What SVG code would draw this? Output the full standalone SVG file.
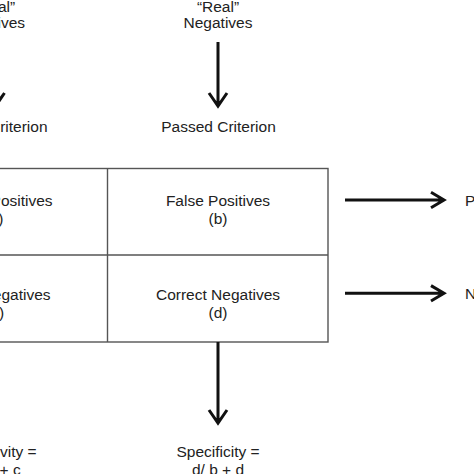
<svg xmlns="http://www.w3.org/2000/svg" width="474" height="474" viewBox="0 0 474 474">
<style>
text{font-family:"Liberation Sans",Arial,sans-serif;font-size:15.5px;fill:#222;text-anchor:middle}
.grid{fill:none;stroke:#555;stroke-width:1.4}
.arr{fill:none;stroke:#111;stroke-width:3;stroke-linecap:butt;stroke-linejoin:miter}
</style>
<rect width="474" height="474" fill="#fff"/>
<g id="table">
<rect class="grid" x="-113" y="168.5" width="441" height="173.5"/>
<line class="grid" x1="107.5" y1="168.5" x2="107.5" y2="342"/>
<line class="grid" x1="-113" y1="255" x2="328" y2="255"/>
</g>
<g id="real-positives"><text x="-6" y="11.5">“Real”</text><text x="-6" y="28">Positives</text></g>
<g id="real-negatives"><text x="218" y="11.5">“Real”</text><text x="218" y="28">Negatives</text></g>
<g id="failed-criterion"><text x="-5" y="131.5">Failed Criterion</text></g>
<g id="passed-criterion"><text x="218.5" y="131.5">Passed Criterion</text></g>
<g id="cell-a"><text x="-6" y="205.5">Correct Positives</text><text x="-6" y="224">(a)</text></g>
<g id="cell-b"><text x="218" y="205.5">False Positives</text><text x="218" y="224">(b)</text></g>
<g id="cell-c"><text x="-5" y="299.5">False Negatives</text><text x="-5" y="317.5">(c)</text></g>
<g id="cell-d"><text x="218" y="299.5">Correct Negatives</text><text x="218" y="317.5">(d)</text></g>
<g id="sensitivity"><text x="-5" y="456.5">Sensitivity =</text><text x="-5" y="474.5">a/ a + c</text></g>
<g id="specificity"><text x="218" y="456.5">Specificity =</text><text x="218" y="474.5">d/ b + d</text></g>
<g id="p-label"><text x="465" y="205.5" style="text-anchor:start">P</text></g>
<g id="n-label"><text x="465" y="299" style="text-anchor:start">N</text></g>
<g id="connectors">
<path class="arr" d="M-4.5 42V105M-13.5 93L-4.5 106L4.5 93"/>
<path class="arr" d="M218 42V105M209 93L218 106L227 93"/>
<path class="arr" d="M218 342V422M209 410L218 423L227 410"/>
<path class="arr" d="M345 200H443M431 192.3L444 200L431 207.7"/>
<path class="arr" d="M345 293.3H443M431 285.6L444 293.3L431 301"/>
</g>
</svg>
